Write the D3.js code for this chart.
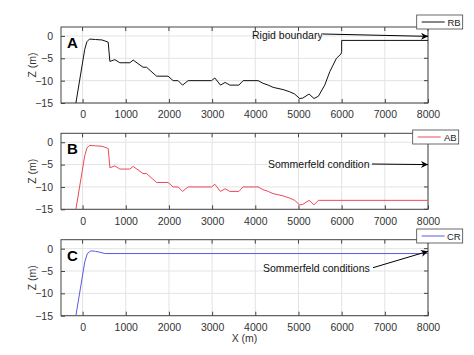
<!DOCTYPE html>
<html><head><meta charset="utf-8">
<script src="https://cdn.jsdelivr.net/npm/d3@7/dist/d3.min.js"></script>
<style>body{margin:0;background:#fff}svg{display:block}text{font-family:"Liberation Sans",Arial,sans-serif}</style>
</head><body><svg id="c" width="474" height="355"></svg>
<script>
const xTicks = [0,1000,2000,3000,4000,5000,6000,7000,8000];
const yTicks = [0,-5,-10,-15];
const panels = ["A","B","C"];
const legendNames = ["RB","AB","CR"];
const colors = ["#111111","#ec4a58","#5a5ade"];
const annotations = ["Rigid boundary","Sommerfeld condition","Sommerfeld conditions"];

const xRB = [-155,50,100,160,300,450,540,593,632,748,863,1095,1171,1400,1481,1713,1981,2097,2213,2315,2444,2986,3063,3194,3301,3410,3620,3718,4065,4181,4300,4412,4644,4800,4912,5027,5100,5245,5360,5460,5609,5725,5880,5987,6000,6000,8000];
const zRB = [-15,-3,-1.3,-0.7,-0.8,-0.9,-1.2,-1.4,-5.7,-5.3,-6,-6,-5.4,-7,-7,-9,-9,-10,-10,-11,-10,-10,-9.4,-11,-10.4,-11,-11,-10,-10,-10.6,-11,-11.5,-12,-12.5,-13,-14,-13.9,-13,-14,-13.5,-11,-8,-5,-4,-3.5,-1,-1];

const xAB = [-155,50,100,160,300,450,540,593,632,748,863,1095,1171,1400,1481,1713,1981,2097,2213,2315,2444,2986,3063,3194,3301,3410,3620,3718,4065,4181,4300,4412,4644,4800,4912,5027,5100,5245,5360,5460,8000];
const zAB = [-15,-3,-1.3,-0.7,-0.8,-0.9,-1.2,-1.4,-5.7,-5.3,-6,-6,-5.4,-7,-7,-9,-9,-10,-10,-11,-10,-10,-9.4,-11,-10.4,-11,-11,-10,-10,-10.6,-11,-11.5,-12,-12.5,-13,-14,-13.9,-13,-14,-13,-13];

const xCR = [-155,50,110,190,300,400,516,8000];
const zCR = [-15,-3,-1.1,-0.5,-0.6,-0.8,-1.1,-1.1];

const series = [[xRB,zRB],[xAB,zAB],[xCR,zCR]];

const svg = d3.select("#c");
const left = 61, right = 428, h = 76;
const tops = [27, 133.3, 239.7];
const x = d3.scaleLinear().domain([-500,8000]).range([left,right]);

const ann = [
  {tx:252, ty:35, ax:323, ay:34, ez:-0.1},
  {tx:268, ty:164, ax:372, ay:164, ez:-5},
  {tx:263, ty:268, ax:373, ay:267.7, ez:-0.6}
];
const legendPos = [[416.7,15],[412.7,130],[416.7,229]];

svg.append("defs").append("marker").attr("id","ah").attr("viewBox","0 0 10 10")
  .attr("refX",10).attr("refY",5).attr("markerWidth",10).attr("markerHeight",7)
  .attr("markerUnits","userSpaceOnUse").attr("orient","auto")
  .append("path").attr("d","M0,0L10,5L0,10L3,5Z").attr("fill","#000");

panels.forEach((p,i)=>{
  const top = tops[i], bot = top + h;
  const y = d3.scaleLinear().domain([-15,2]).range([bot,top]);
  const g = svg.append("g");
  g.selectAll(".gx").data(xTicks).enter().append("line")
    .attr("x1",d=>x(d)).attr("x2",d=>x(d)).attr("y1",top).attr("y2",bot)
    .attr("stroke","#e3e3e3").attr("stroke-width",1);
  g.selectAll(".gy").data(yTicks).enter().append("line")
    .attr("y1",d=>y(d)).attr("y2",d=>y(d)).attr("x1",left).attr("x2",right)
    .attr("stroke","#e3e3e3").attr("stroke-width",1);
  const ax = g.append("g").attr("transform",`translate(0,${bot})`)
    .call(d3.axisBottom(x).tickValues(xTicks).tickSize(-4).tickPadding(8).tickFormat(d3.format("d")));
  const ay = g.append("g").attr("transform",`translate(${left},0)`)
    .call(d3.axisLeft(y).tickValues(yTicks).tickSize(-4).tickPadding(8).tickFormat(d3.format("d")));
  [ax,ay].forEach(a=>{a.select(".domain").remove();
    a.selectAll("line").attr("stroke","#444");
    a.selectAll("text").attr("font-size",10.5).attr("fill","#333");});
  g.selectAll(".tt").data(xTicks).enter().append("line")
    .attr("x1",d=>x(d)).attr("x2",d=>x(d)).attr("y1",top).attr("y2",top+4).attr("stroke","#444");
  g.selectAll(".rt").data(yTicks).enter().append("line")
    .attr("x1",right).attr("x2",right-4).attr("y1",d=>y(d)).attr("y2",d=>y(d)).attr("stroke","#444");
  g.append("rect").attr("x",left).attr("y",top).attr("width",right-left).attr("height",h)
    .attr("fill","none").attr("stroke","#444").attr("stroke-width",1);
  const [xs,zs] = series[i];
  const pts = xs.map((v,k)=>[v,zs[k]]);
  g.append("path").datum(pts).attr("fill","none").attr("stroke",colors[i]).attr("stroke-width",1)
    .attr("d",d3.line().x(d=>x(d[0])).y(d=>y(Math.max(-15,d[1]))));
  g.append("text").attr("x",67).attr("y",y(0)+12).attr("font-size",15).attr("font-weight","bold")
    .attr("font-family","'DejaVu Sans',sans-serif").text(p);
  g.append("text").attr("transform",`translate(36,${top+h/2}) rotate(-90)`).attr("text-anchor","middle")
    .attr("font-size",10.5).attr("fill","#333").text("Z (m)");
  const a = ann[i];
  g.append("text").attr("x",a.tx).attr("y",a.ty+4).attr("font-size",10.5).attr("fill","#111").text(annotations[i]);
  g.append("line").attr("x1",a.ax).attr("y1",a.ay).attr("x2",x(8000)).attr("y2",y(a.ez))
    .attr("stroke","#000").attr("stroke-width",1).attr("marker-end","url(#ah)");
  const [lx,ly] = legendPos[i];
  const lg = svg.append("g").attr("transform",`translate(${lx},${ly})`);
  lg.append("rect").attr("width",46).attr("height",14).attr("fill","#fff").attr("stroke","#444").attr("stroke-width",0.8);
  lg.append("line").attr("x1",5).attr("x2",28).attr("y1",7).attr("y2",7).attr("stroke",colors[i]);
  lg.append("text").attr("x",44).attr("y",10.5).attr("text-anchor","end").attr("font-size",9.5).attr("fill","#222").text(legendNames[i]);
});
svg.append("text").attr("x",x(3750)).attr("y",342).attr("text-anchor","middle")
  .attr("font-size",10.5).attr("fill","#333").text("X (m)");
</script></body></html>
